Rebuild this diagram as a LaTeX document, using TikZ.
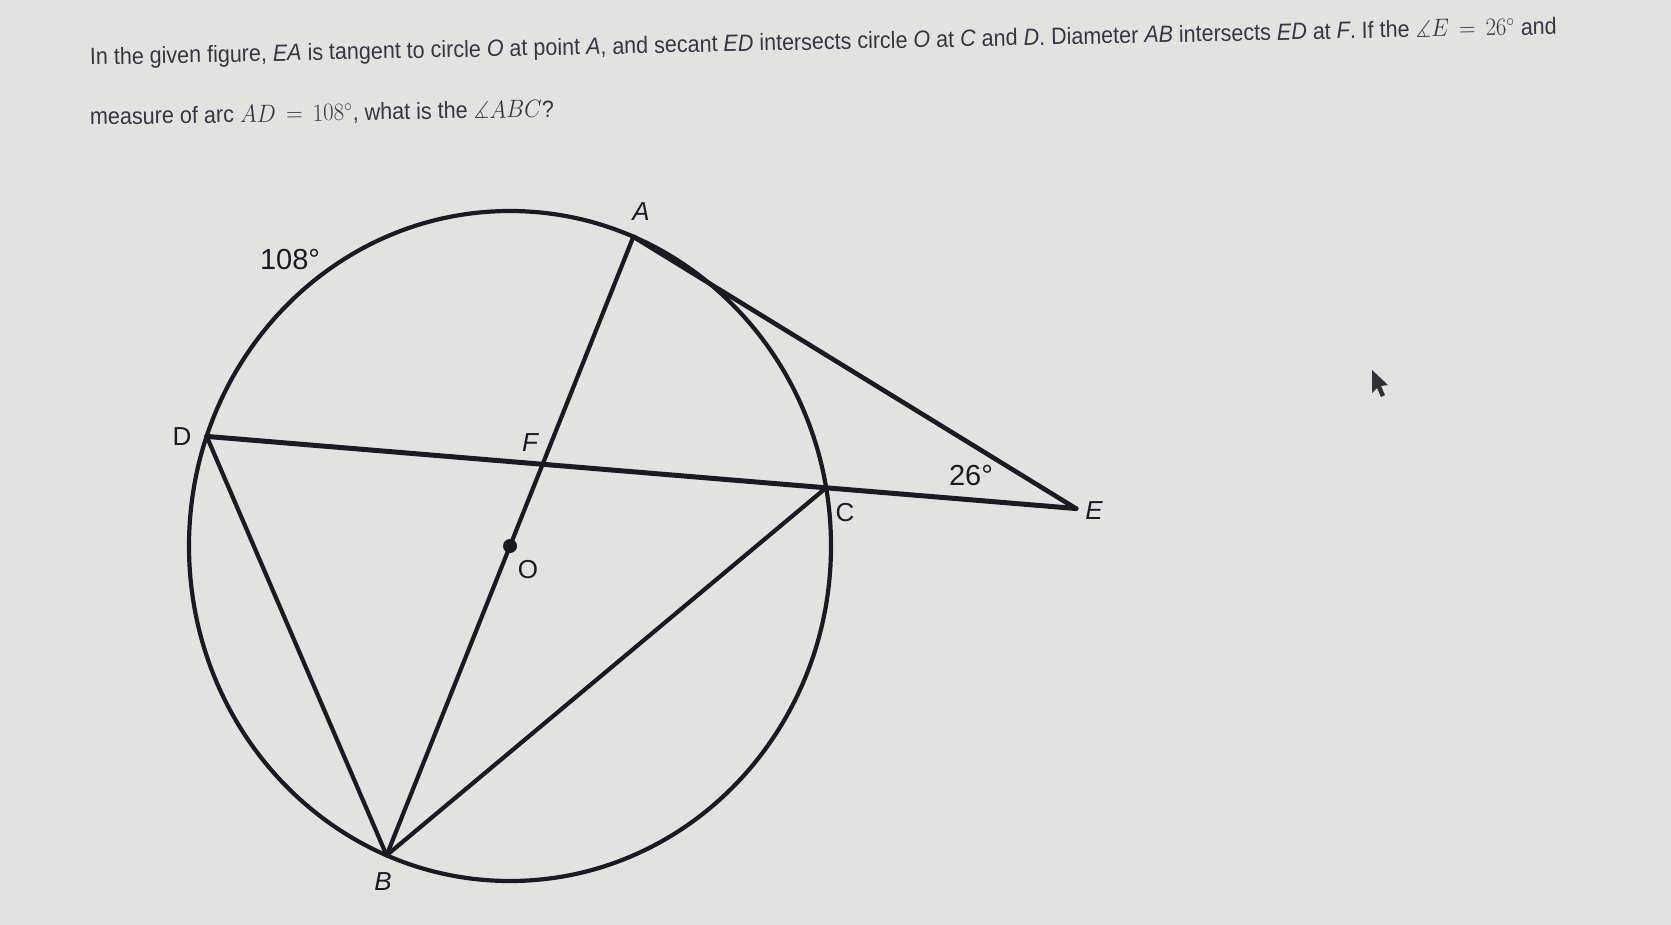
\documentclass[tikz,border=0pt]{standalone}
\usepackage{graphicx}
\usepackage{amssymb}
\usepackage{fontspec}
\setmainfont{Liberation Sans}
\usetikzlibrary{calc}
\definecolor{bg}{RGB}{226,227,225}
\definecolor{ink}{RGB}{26,26,34}
\definecolor{txt}{RGB}{52,54,66}
\begin{document}
\begin{tikzpicture}[x=1pt,y=-1pt,
  fig/.style={draw=ink,line width=4.2pt,line cap=round,line join=round},
  lbl/.style={text=ink,font=\fontsize{26}{28}\selectfont,inner sep=0pt},
  deglbl/.style={text=ink,font=\fontsize{29}{31}\selectfont,inner sep=0pt},
  qtext/.style={text=txt,inner sep=0pt,anchor=base west,font=\fontsize{23.5}{26}\selectfont}]
\fill[bg] (0,0) rectangle (1671,925);
\useasboundingbox (0,0) rectangle (1671,925);
% question text
\node[qtext,rotate=1.2] (q1) at (90,65) {\resizebox{1467pt}{\height}{In the given figure, \textit{EA} is tangent to circle \textit{O} at point \textit{A}, and secant \textit{ED} intersects circle \textit{O} at \textit{C} and \textit{D}. Diameter \textit{AB} intersects \textit{ED} at \textit{F}. If the $\measuredangle E\,=\,26^\circ$ and}};
\node[qtext,rotate=1.0] (q2) at (90,125) {\resizebox{464pt}{\height}{measure of arc $AD\,=\,108^\circ$, what is the $\measuredangle ABC$?}};
% geometry
\coordinate (O) at (510,546);
\coordinate (A) at (633.4,236.7);
\coordinate (B) at (386.6,855.3);
\coordinate (D) at (206.7,436.4);
\coordinate (C) at (826.1,487.8);
\coordinate (E) at ($(D)!1.4035!(C)$);
\draw[fig] (O) ellipse [x radius=321pt, y radius=335pt];
\draw[fig] (A) -- (B);
\draw[fig] (B) -- (D);
\draw[fig] (B) -- (C);
\draw[fig,line width=5pt] (D) -- (E);
\draw[fig,line width=4.6pt] (E) -- (A);
\fill[ink] (O) circle [radius=7pt];
% labels
\node[lbl,font=\fontsize{26}{28}\selectfont\itshape] (lA) at (641,212) {A};
\node[lbl] (lD) at (182,437) {D};
\node[lbl,font=\fontsize{26}{28}\selectfont\itshape] (lF) at (530,443) {F};
\node[lbl] (lC) at (845,513) {C};
\node[lbl,font=\fontsize{26}{28}\selectfont\itshape] (lE) at (1094,511) {E};
\node[lbl] (lO) at (528,570) {O};
\node[lbl,font=\fontsize{26}{28}\selectfont\itshape] (lB) at (383,882) {B};
\node[deglbl] (l108) at (290,260) {108°};
\node[deglbl] (l26) at (971,476) {26°};
% mouse pointer
\fill[ink!90] (1372,370) -- (1372,393) -- (1377,388) -- (1381,397) -- (1385,395) -- (1381,386) -- (1388,385) -- cycle;
\end{tikzpicture}
\end{document}
